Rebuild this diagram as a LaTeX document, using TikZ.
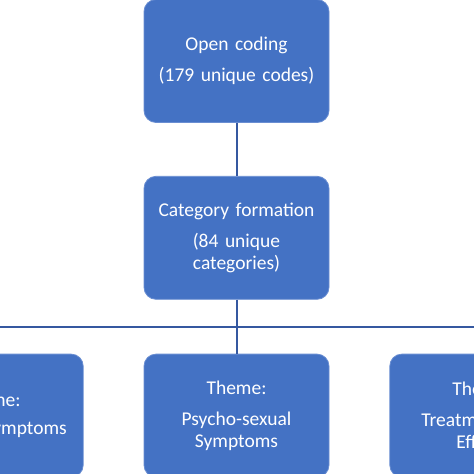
\documentclass[tikz,border=0pt]{standalone}
\usepackage{fontspec}
\setmainfont{Carlito}
\usetikzlibrary{shapes,arrows}
\usetikzlibrary{positioning,calc}
\definecolor{boxblue}{HTML}{4472C4}
\definecolor{edgeblue}{HTML}{6A8ED2}
\definecolor{lineblue}{HTML}{3558A0}
\tikzstyle{box} = [rectangle, rounded corners=12pt, minimum width=185pt, minimum height=123pt, text width=175pt, align=center, fill=boxblue, draw=edgeblue, line width=0.8pt, text=white, font=\fontsize{19.5}{22}\selectfont]
\tikzstyle{line} = [draw=lineblue, line width=2pt]

\begin{document}
\begin{tikzpicture}
	\useasboundingbox (0,0) rectangle (474pt,-474pt);
	\node [box] (code) at (236.5pt,-61pt) {Open coding\\[9pt](179 unique codes)};
	\node [box, below=53pt of code] (cat) {Category formation\\[9pt](84 unique\\categories)};
	\node [box, below=54pt of cat] (psy) {Theme:\\[9pt]Psycho-sexual\\Symptoms};
	\node [box, left=60pt of psy] (phys) {Theme:\\[6pt]Physical Symptoms};
	\node [box, right=60pt of psy] (treat) {Theme:\\[9pt]Treatment Side\\Effects};
	\coordinate (bus) at ($(cat.south)!0.5!(psy.north)$);
	\draw [line] (code) -- (cat);
	\draw [line] (cat) -- (psy);
	\draw [line] (phys.north) |- (bus) -| (treat.north);
\end{tikzpicture}
\end{document}
